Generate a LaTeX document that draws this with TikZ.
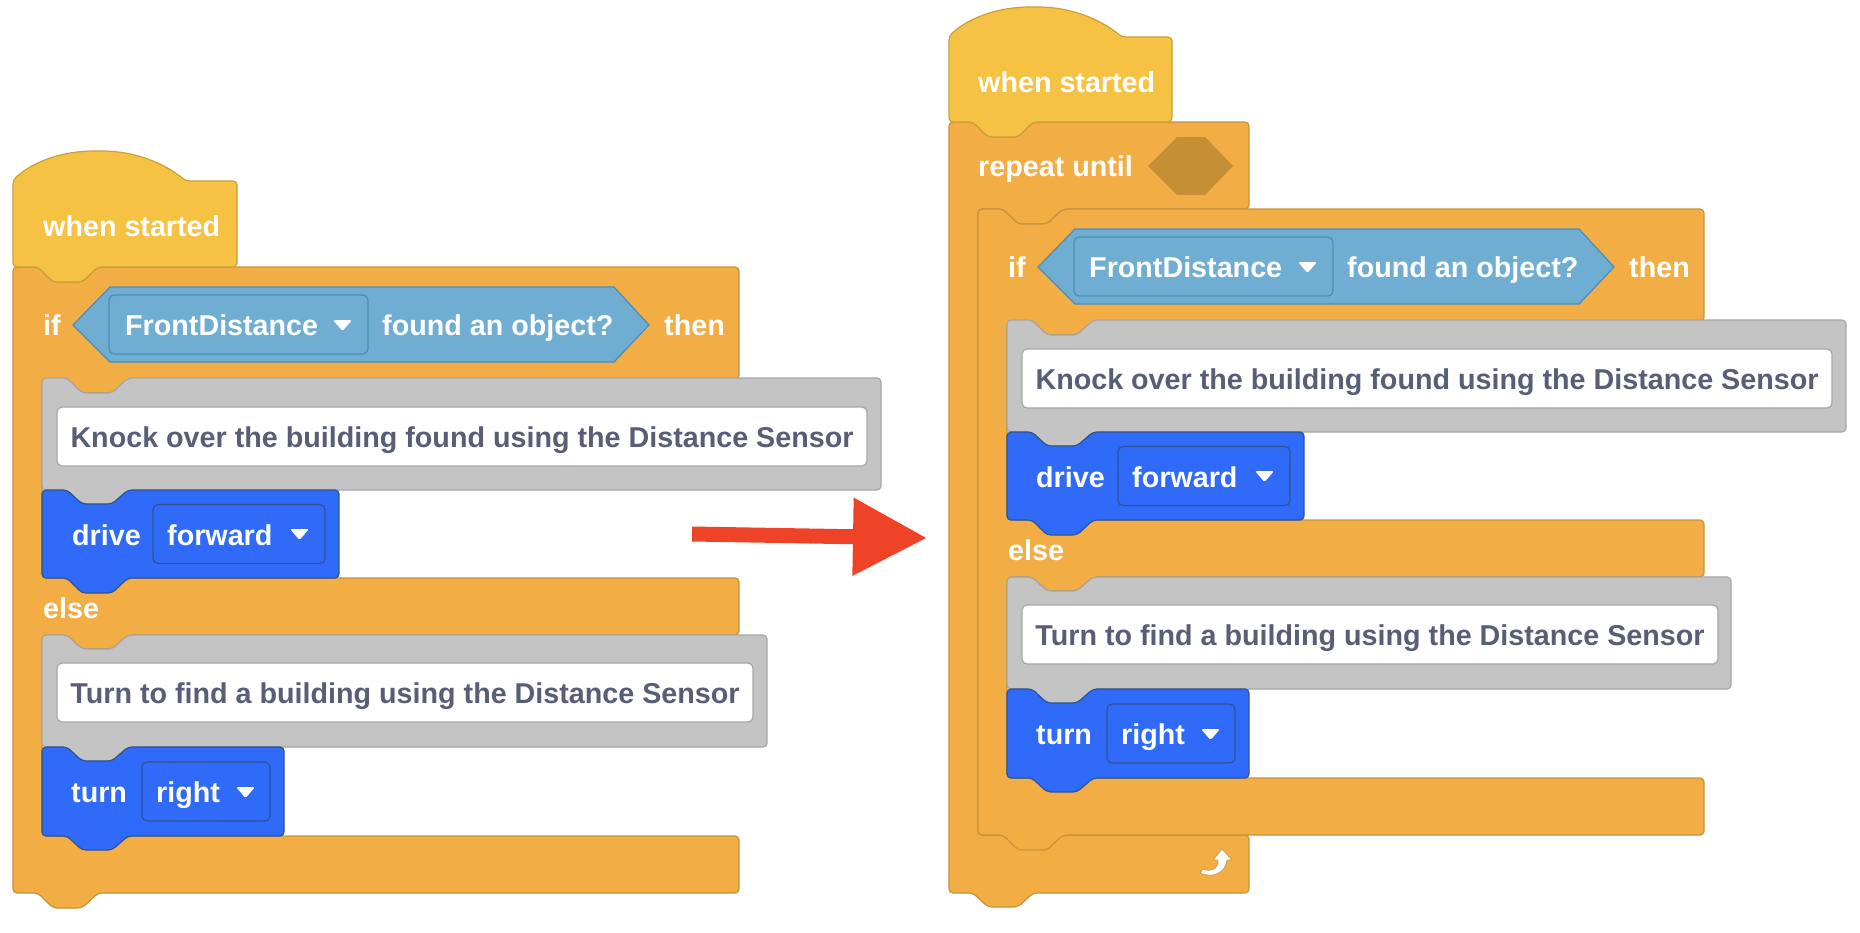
\documentclass[tikz,border=0pt]{standalone}
\usepackage{fontspec}
\usepackage{xcolor}
\usetikzlibrary{arrows.meta}
\setmainfont{Liberation Sans}[BoldFont=Liberation Sans Bold]
\definecolor{ctrlFill}{HTML}{F2AE44}
\definecolor{ctrlLine}{HTML}{C8923C}
\definecolor{hatFill}{HTML}{F5C243}
\definecolor{hatLine}{HTML}{C9A03A}
\definecolor{noteFill}{HTML}{C4C4C4}
\definecolor{noteLine}{HTML}{A6A6A6}
\definecolor{moveFill}{HTML}{2F6BF8}
\definecolor{moveLine}{HTML}{2F5391}
\definecolor{senseFill}{HTML}{70ADD3}
\definecolor{senseLine}{HTML}{4C8CB6}
\definecolor{noteText}{HTML}{575E75}
\definecolor{slotFill}{HTML}{C58F36}
\definecolor{pointer}{HTML}{EE4327}
\begin{document}
\begin{tikzpicture}
      [ x=1pt, y=-1pt
      , block/.style={line width=1.2pt, rounded corners=4pt}
      , ctrlBlock/.style={block, fill=ctrlFill, draw=ctrlLine}
      , hatBlock/.style={block, fill=hatFill, draw=hatLine}
      , noteBlock/.style={block, fill=noteFill, draw=noteLine}
      , moveBlock/.style={block, fill=moveFill, draw=moveLine}
      , sensorHex/.style={fill=senseFill, draw=senseLine, line width=1.2pt}
      , slotHex/.style={fill=slotFill}
      , lbl/.style={anchor=base west, inner sep=0pt, text=white, font=\fontsize{28.7}{29}\bfseries}
      , field/.style={draw, line width=1.2pt, rounded corners=5pt, inner sep=0pt, text height=21pt, text depth=0pt}
      , noteField/.style={field, fill=white, draw=noteLine, text=noteText, minimum height=59pt, font=\fontsize{28.7}{29}\bfseries}
      , dropField/.style={field, minimum height=59pt}
      , pointerArrow/.style={pointer, line width=15pt, -{Triangle[length=74pt, width=74pt]}}
      , caret/.pic={\fill[white, rounded corners=1.5pt] (0,0) -- (19,0) -- (9.5,11) -- cycle;}
      ]
    \useasboundingbox (0,0) rectangle (1860,932);

    \draw[ctrlBlock]
    (13,267) -- (38,267) -- (53,282) -- (82,282) -- (98,267) -- (739,267) -- (739,379)
    -- (128,379) -- (112,393) -- (82,393) -- (67,379) -- (42,379) -- (42,578) -- (739,578) -- (739,635)
    -- (128,635) -- (112,649) -- (82,649) -- (67,635) -- (42,635) -- (42,836) -- (739,836) -- (739,893)
    -- (98,893) -- (82,908) -- (53,908) -- (38,893) -- (13,893) -- cycle;

    \draw[hatBlock]
    (13,180) .. controls (35,160) and (65,151) .. (98,151) .. controls (130,151) and (160,160) .. (186,181)
    -- (237,181) -- (237,267) -- (98,267) -- (82,282) -- (53,282) -- (38,267) -- (13,267) -- cycle;

    \draw[noteBlock]
    (42,378) -- (67,378) -- (82,393) -- (112,393) -- (128,378) -- (881,378) -- (881,490)
    -- (128,490) -- (112,504) -- (82,504) -- (67,490) -- (42,490) -- cycle;
    \draw[moveBlock]
    (42,490) -- (67,490) -- (82,504) -- (112,504) -- (128,490) -- (339,490) -- (339,578)
    -- (128,578) -- (112,593) -- (82,593) -- (67,578) -- (42,578) -- cycle;
    \draw[noteBlock]
    (42,635) -- (67,635) -- (82,649) -- (112,649) -- (128,635) -- (767,635) -- (767,747)
    -- (128,747) -- (112,761) -- (82,761) -- (67,747) -- (42,747) -- cycle;
    \draw[moveBlock]
    (42,747) -- (67,747) -- (82,761) -- (112,761) -- (128,747) -- (284,747) -- (284,836)
    -- (128,836) -- (112,850) -- (82,850) -- (67,836) -- (42,836) -- cycle;

    \draw[sensorHex] (73,325) -- (110,287) -- (614,287) -- (649,325) -- (614,362) -- (110,362) -- cycle;

    \node[lbl] (startL) at (43,236) {when started};
    \node[lbl] (ifL) at (43,335) {if};
    \node[dropField, draw=senseLine, minimum width=259pt] (sensorL) at (238.5,324.5) {};
    \node[lbl] (frontL) at (125,335) {FrontDistance};
    \node[lbl] (foundL) at (382,335) {found an object?};
    \node[lbl] (thenL) at (664,335) {then};
    \node[noteField, minimum width=810pt] (knockL) at (462,436.5) {Knock over the building found using the Distance Sensor};
    \node[lbl] (driveL) at (72,545) {drive};
    \node[dropField, draw=moveLine, minimum width=172pt] (dirL) at (239,534) {};
    \node[lbl] (forwardL) at (167,545) {forward};
    \node[lbl] (elseL) at (43,618) {else};
    \node[noteField, minimum width=696pt] (findL) at (405,692.5) {Turn to find a building using the Distance Sensor};
    \node[lbl] (turnL) at (71,802) {turn};
    \node[dropField, draw=moveLine, minimum width=128pt] (sideL) at (206,791.5) {};
    \node[lbl] (rightL) at (156,802) {right};
    \pic at (333,320) {caret};
    \pic at (290,529) {caret};
    \pic at (236,787) {caret};

    \coordinate (from) at (692,534);
    \coordinate (to) at (927,538);
    \draw[pointerArrow] (from) -- (to);

    \draw[ctrlBlock]
    (949,122) -- (973,122) -- (988,137) -- (1018,137) -- (1033,122) -- (1249,122) -- (1249,209)
    -- (1063,209) -- (1047,224) -- (1018,224) -- (1003,209) -- (978,209) -- (978,835) -- (1249,835) -- (1249,893)
    -- (1033,893) -- (1018,907) -- (988,907) -- (973,893) -- (949,893) -- cycle;

    \draw[ctrlBlock]
    (978,209) -- (1003,209) -- (1018,224) -- (1047,224) -- (1063,209) -- (1704,209) -- (1704,321)
    -- (1093,321) -- (1077,335) -- (1047,335) -- (1032,321) -- (1007,321) -- (1007,520) -- (1704,520) -- (1704,577)
    -- (1093,577) -- (1077,591) -- (1047,591) -- (1032,577) -- (1007,577) -- (1007,778) -- (1704,778) -- (1704,835)
    -- (1063,835) -- (1047,850) -- (1018,850) -- (1003,835) -- (978,835) -- cycle;

    \draw[hatBlock]
    (949,36) .. controls (971,16) and (1001,7) .. (1034,7) .. controls (1066,7) and (1096,16) .. (1122,37)
    -- (1172,37) -- (1172,122) -- (1033,122) -- (1018,137) -- (988,137) -- (973,122) -- (949,122) -- cycle;

    \draw[noteBlock]
    (1007,320) -- (1032,320) -- (1047,335) -- (1077,335) -- (1093,320) -- (1846,320) -- (1846,432)
    -- (1093,432) -- (1077,446) -- (1047,446) -- (1032,432) -- (1007,432) -- cycle;
    \draw[moveBlock]
    (1007,432) -- (1032,432) -- (1047,446) -- (1077,446) -- (1093,432) -- (1304,432) -- (1304,520)
    -- (1093,520) -- (1077,535) -- (1047,535) -- (1032,520) -- (1007,520) -- cycle;
    \draw[noteBlock]
    (1007,577) -- (1032,577) -- (1047,591) -- (1077,591) -- (1093,577) -- (1731,577) -- (1731,689)
    -- (1093,689) -- (1077,703) -- (1047,703) -- (1032,689) -- (1007,689) -- cycle;
    \draw[moveBlock]
    (1007,689) -- (1032,689) -- (1047,703) -- (1077,703) -- (1093,689) -- (1249,689) -- (1249,778)
    -- (1093,778) -- (1077,792) -- (1047,792) -- (1032,778) -- (1007,778) -- cycle;

    \fill[slotHex] (1148,166) -- (1177,137) -- (1205,137) -- (1233,166) -- (1205,195) -- (1177,195) -- cycle;
    \draw[sensorHex] (1038,267) -- (1075,229) -- (1579,229) -- (1614,267) -- (1579,304) -- (1075,304) -- cycle;

    \node[lbl] (startR) at (978,92) {when started};
    \node[lbl] (repeatR) at (978,176) {repeat until};
    \node[lbl] (ifR) at (1008,277) {if};
    \node[dropField, draw=senseLine, minimum width=259pt] (sensorR) at (1203.5,266.5) {};
    \node[lbl] (frontR) at (1089,277) {FrontDistance};
    \node[lbl] (foundR) at (1347,277) {found an object?};
    \node[lbl] (thenR) at (1629,277) {then};
    \node[noteField, minimum width=810pt] (knockR) at (1427,378.5) {Knock over the building found using the Distance Sensor};
    \node[lbl] (driveR) at (1036,487) {drive};
    \node[dropField, draw=moveLine, minimum width=172pt] (dirR) at (1204,476) {};
    \node[lbl] (forwardR) at (1132,487) {forward};
    \node[lbl] (elseR) at (1008,560) {else};
    \node[noteField, minimum width=696pt] (findR) at (1370,634.5) {Turn to find a building using the Distance Sensor};
    \node[lbl] (turnR) at (1036,744) {turn};
    \node[dropField, draw=moveLine, minimum width=128pt] (sideR) at (1171,733.5) {};
    \node[lbl] (rightR) at (1121,744) {right};
    \pic at (1298,262) {caret};
    \pic at (1255,471) {caret};
    \pic at (1201,729) {caret};

    \draw[fill=white, draw=ctrlLine, line width=0.6pt]
    (1222,849) -- (1232,860) -- (1227,860) .. controls (1226,872) and (1214,879) .. (1200,873)
    -- (1203,869) .. controls (1210,872) and (1218,870) .. (1218,860) -- (1213,860) -- cycle;
  \end{tikzpicture}
\end{document}
